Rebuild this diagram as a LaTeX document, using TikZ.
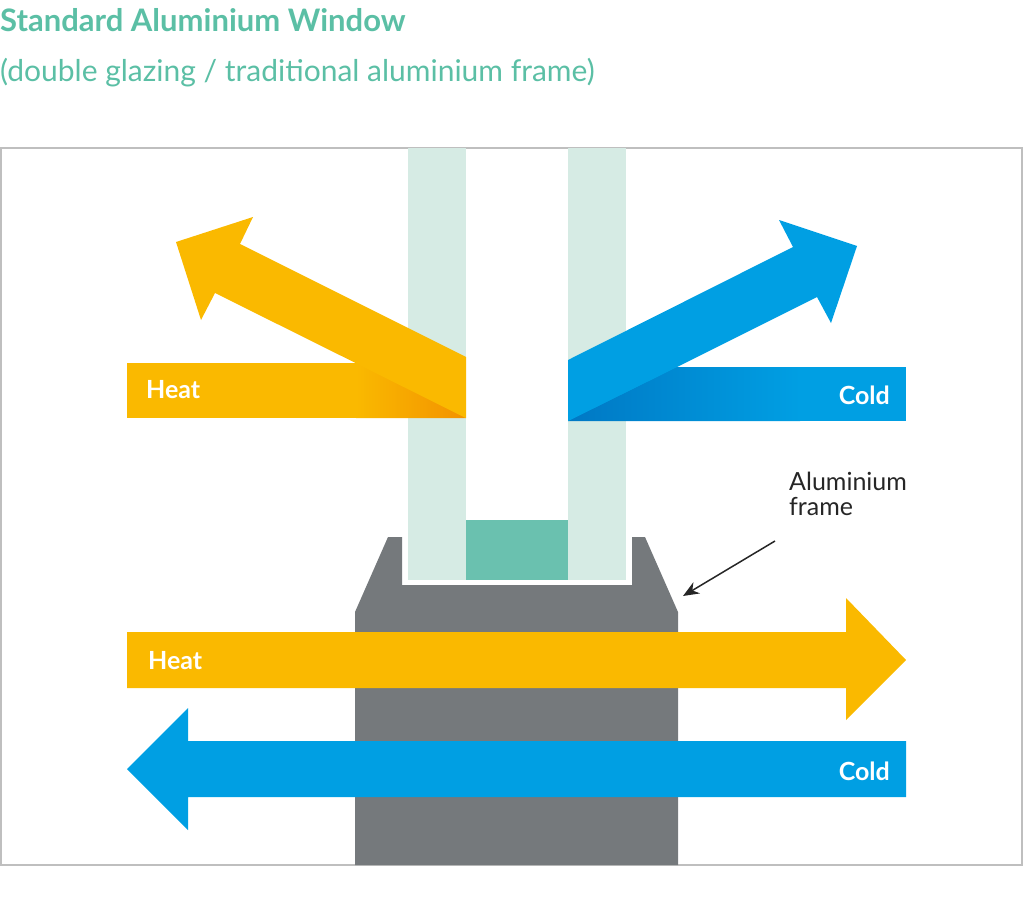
\documentclass[tikz,border=0pt]{standalone}
\usepackage{fontspec}
\setmainfont{Lato}
\usetikzlibrary{arrows.meta}
\definecolor{teal}{HTML}{5BBFA5}
\definecolor{glass}{HTML}{D6EBE4}
\definecolor{spacer}{HTML}{6AC1AF}
\definecolor{alu}{HTML}{75797C}
\definecolor{heat}{HTML}{FAB900}
\definecolor{heatdark}{HTML}{F39200}
\definecolor{cold}{HTML}{009FE3}
\definecolor{colddark}{HTML}{0078C4}
\tikzset{
  label/.style={text=white, font=\bfseries\fontsize{25}{28}\selectfont, inner sep=0pt},
  note/.style={text=black!85, font=\fontsize{25}{29}\selectfont, align=left, inner sep=0pt},
}
\begin{document}
\begin{tikzpicture}[x=1pt,y=-1pt]
    \useasboundingbox (0,0) rectangle (1024,920);
    % titles
    \node[anchor=west, text=teal, font=\bfseries\fontsize{31}{34}\selectfont, inner sep=0pt] (title) at (0,20) {Standard Aluminium Window};
    \node[anchor=west, text=teal, font=\fontsize{30}{34}\selectfont, inner sep=0pt] (subtitle) at (0,73) {(double glazing / traditional aluminium frame)};
    \draw[black!25, line width=1.5pt] (1,148) rectangle (1022,865);
    % glazing
    \fill[glass] (408,148) rectangle (466,580);
    \fill[glass] (568,148) rectangle (626,580);
    \fill[spacer] (466,520) rectangle (568,580);
    % frame
    \fill[alu] (355,865) -- (355,612) -- (388,537) -- (402,537) -- (402,585) -- (632,585)
        -- (632,537) -- (645,537) -- (678,612) -- (678,865) -- cycle;
    % heat through glass
    \fill[heat] (127,363) rectangle (466,418);
    \shade[left color=heat, right color=heatdark] (356,363) -- (466,418) -- (356,418) -- cycle;
    \fill[heat] (466,357) -- (240,244) -- (253,217) -- (176,242) -- (201,320) -- (215,293) -- (466,418) -- cycle;
    \node[label, anchor=west] (heattop) at (146,390) {Heat};
    % cold through glass
    \fill[cold] (568,367) rectangle (906,421);
    \shade[left color=colddark, right color=cold] (568,421) -- (677,367) -- (800,367) -- (800,421) -- cycle;
    \fill[cold] (568,360) -- (793,247) -- (779,220) -- (857,246) -- (831,323) -- (817,297) -- (677,367) -- (568,421) -- cycle;
    \node[label, anchor=east] (coldtop) at (890,395) {Cold};
    % heat and cold through frame
    \fill[heat] (127,632) -- (846,632) -- (846,598) -- (906,660) -- (846,720) -- (846,688) -- (127,688) -- cycle;
    \node[label, anchor=west] (heatlow) at (148,661) {Heat};
    \fill[cold] (906,741) -- (188,741) -- (188,708) -- (127,769) -- (188,830) -- (188,797) -- (906,797) -- cycle;
    \node[label, anchor=east] (coldlow) at (890,771) {Cold};
    % annotation
    \node[note, anchor=north west] (frame) at (789,472) {Aluminium\\[-4pt]frame};
    \coordinate (frametip) at (683,596);
    \draw[black!85, line width=1.5pt, -{Stealth[length=16pt,width=13pt]}] (775,541) -- (frametip);
\end{tikzpicture}
\end{document}
